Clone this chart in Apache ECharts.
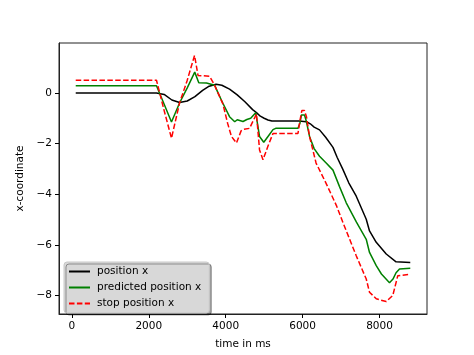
<!DOCTYPE html>
<html><head><meta charset="utf-8">
<script src="https://cdn.jsdelivr.net/npm/echarts@6/dist/echarts.min.js"></script>
<style>html,body{margin:0;padding:0;background:#fff}#c{width:474px;height:355px}</style>
</head><body><div id="c"></div>
<script>
const posT = [100,2200,2400,2600,2800,3000,3200,3400,3550,3750,3900,4100,4300,4500,4700,4800,4900,5000,5100,5200,5900,6100,6200,6300,6440,6600,6790,6900,7050,7200,7395,7655,7740,7915,8175,8430,8800];
const posX = [0,0,-0.06,-0.28,-0.38,-0.32,-0.15,0.1,0.25,0.34,0.3,0.15,-0.08,-0.35,-0.66,-0.78,-0.92,-1.0,-1.07,-1.11,-1.11,-1.14,-1.22,-1.35,-1.46,-1.75,-2.15,-2.55,-3.03,-3.55,-4.08,-4.99,-5.45,-5.9,-6.36,-6.67,-6.7];
const predT = [100,2200,2400,2590,2800,3000,3195,3300,3500,3715,3800,3930,4100,4235,4300,4350,4450,4550,4650,4780,4880,4990,5100,5230,5300,5880,5930,5970,6050,6100,6180,6300,6440,6600,6790,6960,7135,7400,7655,7740,7915,8050,8260,8350,8430,8520,8800];
const predX = [0.28,0.28,-0.45,-1.15,-0.4,0.2,0.82,0.4,0.39,0.3,0.0,-0.42,-0.94,-1.14,-1.06,-1.04,-1.13,-1.05,-1.0,-0.78,-1.72,-1.95,-1.72,-1.45,-1.4,-1.4,-1.2,-0.87,-0.87,-1.14,-1.72,-2.2,-2.5,-2.75,-3.05,-3.7,-4.34,-5.1,-5.78,-6.3,-6.82,-7.15,-7.5,-7.35,-7.1,-6.95,-6.92];
const stopT = [100,2200,2400,2590,2800,3000,3190,3280,3580,3690,3800,3930,4050,4150,4280,4400,4470,4620,4800,4880,4970,5100,5230,5880,5930,5980,6050,6100,6180,6350,6620,6880,7050,7395,7655,7740,7915,8175,8345,8475,8800];
const stopX = [0.5,0.5,-0.7,-1.79,-0.4,0.5,1.48,0.69,0.66,0.37,0.0,-0.45,-1.2,-1.72,-1.98,-1.5,-1.44,-1.4,-0.83,-2.25,-2.64,-2.1,-1.6,-1.6,-1.1,-0.7,-0.7,-0.94,-1.72,-2.77,-3.6,-4.45,-5.12,-6.43,-7.35,-7.87,-8.13,-8.24,-8.0,-7.22,-7.16];
const xTicks = [0,2000,4000,6000,8000];
const yTicks = [-8,-6,-4,-2,0];
const names = ['position x','predicted position x','stop position x'];

const zip = (a,b) => a.map((t,i) => [t,b[i]]);
const fmt = v => String(v).replace('-', '\u2212');
const font = 'DejaVu Sans';
const chart = echarts.init(document.getElementById('c'), null, {renderer:'canvas'});
chart.setOption({
  animation:false,
  backgroundColor:'#fff',
  textStyle:{fontFamily:font},
  grid:{left:59,right:47,top:43,bottom:40,show:true,borderColor:'#222',borderWidth:1,backgroundColor:'#fff'},
  xAxis:{type:'value',min:-335,max:9235,
    name:'time in ms',nameLocation:'middle',nameGap:25,
    nameTextStyle:{color:'#000',fontSize:10.5,fontFamily:font},
    axisLine:{show:true,onZero:false,lineStyle:{color:'#222',width:1}},
    axisTick:{show:true,length:4,inside:false,customValues:xTicks,lineStyle:{color:'#000',width:1}},
    axisLabel:{customValues:xTicks,color:'#000',fontSize:10.5,fontFamily:font,margin:7,formatter:fmt},
    splitLine:{show:false}},
  yAxis:{type:'value',min:-8.73,max:1.97,
    name:'x-coordinate',nameLocation:'middle',nameGap:33,nameRotate:90,
    nameTextStyle:{color:'#000',fontSize:10.5,fontFamily:font},
    axisLine:{show:true,onZero:false,lineStyle:{color:'#222',width:1}},
    axisTick:{show:true,length:4,inside:false,customValues:yTicks,lineStyle:{color:'#000',width:1}},
    axisLabel:{customValues:yTicks,color:'#000',fontSize:10.5,fontFamily:font,margin:7,formatter:fmt},
    splitLine:{show:false}},
  legend:{orient:'vertical',left:64,top:262,itemWidth:21,itemHeight:8,itemGap:5,
    padding:[4,8,4,4],
    backgroundColor:'#d8d8d8',borderColor:'#c8c8c8',borderWidth:1,borderRadius:3,
    shadowColor:'rgba(0,0,0,0.35)',shadowOffsetX:2,shadowOffsetY:2,shadowBlur:0,
    itemStyle:{opacity:0},
    textStyle:{color:'#000',fontSize:10.5,fontFamily:font,padding:[0,0,0,2]},
    data:names},
  series:[
    {name:names[0],type:'line',data:zip(posT,posX),symbol:'none',lineStyle:{color:'#000000',width:1.5},itemStyle:{color:'#000000'},z:3},
    {name:names[1],type:'line',data:zip(predT,predX),symbol:'none',lineStyle:{color:'#008000',width:1.5},itemStyle:{color:'#008000'},z:4},
    {name:names[2],type:'line',data:zip(stopT,stopX),symbol:'none',lineStyle:{color:'#ff0000',width:1.5,type:[5.5,2.4]},itemStyle:{color:'#ff0000'},z:5}
  ]
});
</script></body></html>
